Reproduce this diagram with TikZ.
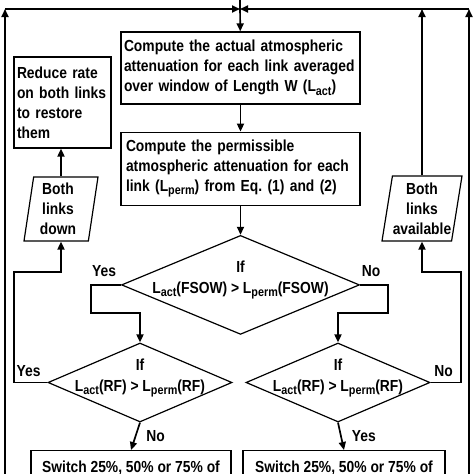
\documentclass[tikz,border=0pt]{standalone}
\usepackage{fontspec}
\setmainfont{Liberation Sans}[FakeStretch=0.865]
\usetikzlibrary{shapes.geometric, arrows.meta, positioning, calc}
\hyphenpenalty=10000
\frenchspacing
\newcommand{\subtxt}[1]{\raisebox{-3.5pt}{\fontsize{12.5pt}{12.5pt}\selectfont #1}}
\tikzstyle{process} = [rectangle, draw, line width=1.2pt, inner sep=4pt, align=left]
\tikzstyle{outcome} = [rectangle, draw, line width=1.2pt, inner sep=4pt, align=center]
\tikzstyle{decision} = [diamond, draw, line width=1.2pt, inner sep=0pt]
\tikzstyle{io} = [trapezium, trapezium left angle=80, trapezium right angle=100, trapezium stretches=true, draw, line width=1.2pt, inner sep=2pt]
\tikzstyle{arrow} = [-{Triangle[length=8pt, width=7pt]}, line width=1.7pt]
\tikzstyle{arrowlabel} = [inner sep=1pt]

\begin{document}
\begin{tikzpicture}[x=1pt, y=1pt, font=\fontsize{16pt}{20pt}\selectfont\bfseries]
    \useasboundingbox (0,0) rectangle (474,-474);
    % Nodes
    \node[process, minimum width=239pt, minimum height=72pt, text width=233pt, inner xsep=3pt] (act) at (240.5,-68)
        {Compute the actual atmospheric\\attenuation for each link averaged\\over window of Length W (L\subtxt{act})};
    \node[process, minimum width=239pt, minimum height=73pt, text width=229pt, inner xsep=5pt, below=27pt of act] (perm)
        {Compute the permissible\\atmospheric attenuation for each\\link (L\subtxt{perm}) from Eq. (1) and (2)};
    \node[decision, minimum width=238pt, minimum height=99pt, below=29pt of perm,
        label={[align=center, yshift=4.5pt]center:{If\\[0.5pt]L\subtxt{act}(FSOW) > L\subtxt{perm}(FSOW)}}] (fso) {};
    \node[decision, minimum width=184pt, minimum height=79pt,
        label={[align=center, yshift=4.5pt]center:{If\\[0.5pt]L\subtxt{act}(RF) > L\subtxt{perm}(RF)}}] (rfL) at (140,-382.5) {};
    \node[decision, minimum width=184pt, minimum height=79pt,
        label={[align=center, yshift=4.5pt]center:{If\\[0.5pt]L\subtxt{act}(RF) > L\subtxt{perm}(RF)}}] (rfR) at (338,-382.5) {};
    \node[process, minimum width=97pt, minimum height=91pt, text width=91pt, inner sep=3pt] (reduce) at (62.5,-102.5)
        {Reduce rate\\on both links\\to restore\\them};
    \node[io, minimum width=74pt, minimum height=64pt,
        label={[align=center, xshift=-3pt]center:{Both\\links\\down}}] (down) at (61,-209) {};
    \node[io, minimum width=80pt, minimum height=65pt,
        label={[align=center]center:{Both\\links\\available}}] (avail) at (422,-208.5) {};
    \node[outcome, minimum width=200pt, minimum height=34pt, anchor=north] (swL) at (131,-450)
        {Switch 25\%, 50\% or 75\% of};
    \node[outcome, minimum width=202pt, minimum height=34pt, anchor=north] (swR) at (344,-450)
        {Switch 25\%, 50\% or 75\% of};

    % Coordinates
    \coordinate (loop) at (240,0);
    \coordinate (top) at (240,-9);
    \coordinate (cornerL) at (5,-9);
    \coordinate (cornerR) at (469,-9);
    \coordinate (botL) at (5,-480);
    \coordinate (botR) at (469,-480);
    \coordinate (yesL) at (91,-313);
    \coordinate (noR) at (388,-313);
    \coordinate (yesLL) at (14,-272);
    \coordinate (noRR) at (461,-272);

    % Arrows
    \draw[arrow] (loop) -- (act);
    \draw[arrow] (act) -- (perm);
    \draw[arrow] (perm) -- (fso);
    \draw[arrow] (fso.west) node[arrowlabel, above left=6pt and 3pt] {Yes} -| (yesL) -| (rfL.north);
    \draw[arrow] (fso.east) node[arrowlabel, above right=6pt and 0pt] {No} -| (noR) -| (rfR.north);
    \draw[arrow] (rfL.west) node[arrowlabel, above left=4pt and 5pt] {Yes} -| (yesLL) -| (down.south);
    \draw[arrow] (rfR.east) node[arrowlabel, above right=4pt and 2pt] {No} -| (noRR) -| (avail.south);
    \draw[arrow] (down.north) -- (down.north |- reduce.south);
    \draw[arrow] (avail.north) -- (avail.north |- top);
    \draw[arrow] (rfL.south) -- node[arrowlabel, right=9pt] {No} (swL.north);
    \draw[arrow] (rfR.south) -- node[arrowlabel, right=9pt] {Yes} (swR.north);
    \draw[arrow] (botL) -- (cornerL);
    \draw[arrow] (cornerL) -- (top);
    \draw[arrow] (botR) -- (cornerR);
    \draw[arrow] (cornerR) -- (top);
\end{tikzpicture}
\end{document}
